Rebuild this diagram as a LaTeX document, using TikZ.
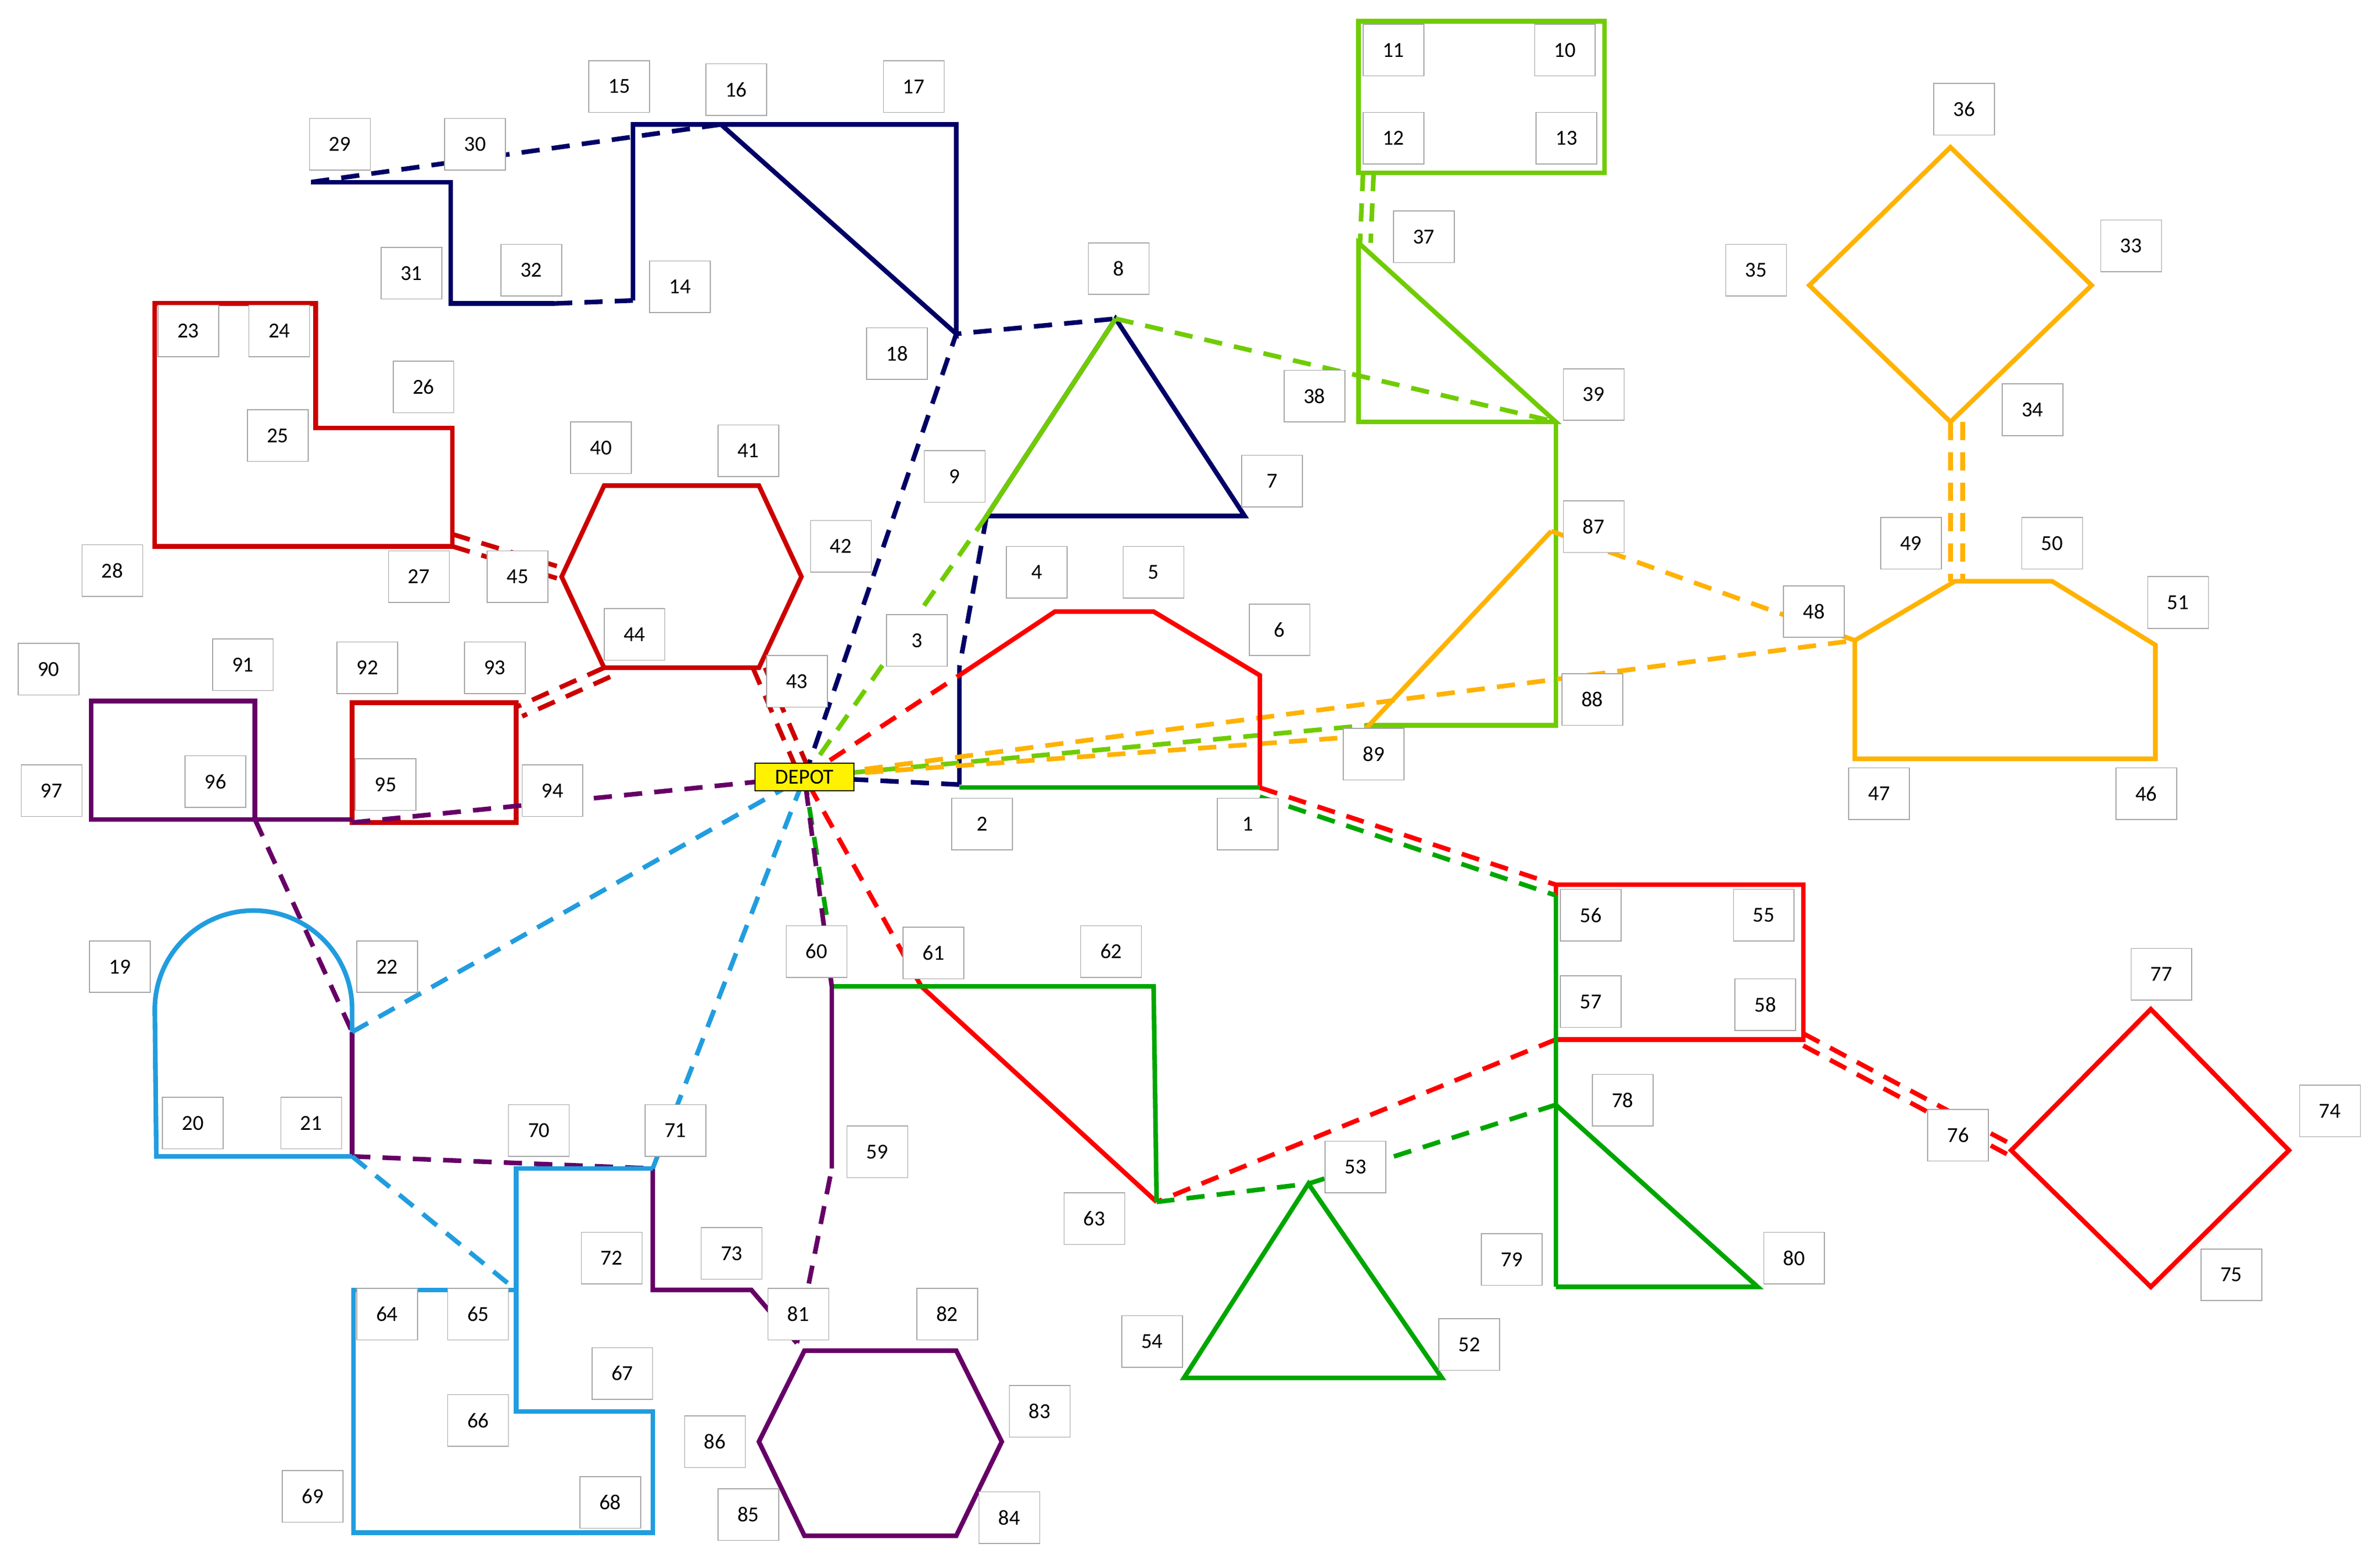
\documentclass[tikz,border=0pt]{standalone}
\usepackage{fontspec}
\setmainfont{Carlito}
\begin{document}
\begin{tikzpicture}[x=0.03cm,y=-0.03cm,line join=miter,
  lab/.style={draw=black!35,fill=white,line width=0.5pt,minimum width=1.2cm,minimum height=1.02cm,font=\fontsize{12}{14}\selectfont,inner sep=0pt},
  sl/.style={line width=2.6pt},
  dl/.style={line width=2.6pt,dash pattern=on 0.36cm off 0.24cm},
  navy/.style={draw=blue!40!black},
  lg/.style={draw=green!45!yellow!80!black},
  org/.style={draw=orange!60!yellow},
  rd/.style={draw=red},
  drd/.style={draw=red!80!black},
  dg/.style={draw=green!65!black},
  pur/.style={draw=violet!80!black},
  cy/.style={draw=cyan!80!blue!90!white}]
\useasboundingbox (0,0) rectangle (1568,1031);
\fill[white] (0,0) rectangle (1568,1031);
\coordinate (D) at (530,512);
% navy
\draw[sl,navy] (205,120)--(297,120)--(297,200)--(365,200);
\draw[dl,navy] (365,200)--(417,198);
\draw[sl,navy] (417,198)--(417,82)--(630,82)--(630,220)--(475,82);
\draw[dl,navy] (205,120)--(475,82);
\draw[dl,navy] (D)--(630,220)--(735,210);
\draw[sl,navy] (735,210)--(820,340)--(650,340)--cycle;
\draw[dl,navy] (650,340)--(632,440);
\draw[sl,navy] (632,440)--(632,517);
\draw[dl,navy] (632,517)--(D);
% light green
\draw[sl,lg] (895,14) rectangle (1057,114);
\draw[dl,lg] (898,114)--(896,160) (905,114)--(903,160);
\draw[sl,lg] (895,160)--(1025,278)--(895,278)--cycle;
\draw[sl,lg] (1025,278)--(1025,478)--(900,478);
\draw[dl,lg] (735,210)--(1025,278);
\draw[sl,lg] (735,210)--(650,340);
\draw[dl,lg] (650,340)--(D)--(900,478);
% orange
\draw[sl,org] (1285,97)--(1378,188)--(1285,278)--(1192,188)--cycle;
\draw[dl,org] (1285,278)--(1285,383) (1293,278)--(1293,383);
\draw[sl,org] (1222,422)--(1288,383)--(1352,383)--(1420,425)--(1420,500)--(1222,500)--cycle;
\draw[dl,org] (1022,350)--(1222,422);
\draw[dl,org] (D)--(1222,422);
\draw[sl,org] (900,480)--(1022,350);
\draw[dl,org] (D)--(900,485);
% dark red
\draw[sl,drd] (102,200)--(208,200)--(208,282)--(298,282)--(298,360)--(102,360)--cycle;
\draw[dl,drd] (298,352)--(370,374) (298,360)--(370,382);
\draw[sl,drd] (370,380)--(398,320)--(500,320)--(528,380)--(500,440)--(398,440)--cycle;
\draw[dl,drd] (496,440)--(524,505) (504,440)--(532,505);
\draw[dl,drd] (398,440)--(340,466) (402,446)--(344,472);
\draw[sl,drd] (232,463) rectangle (340,542);
% red
\draw[dl,rd] (D)--(632,445);
\draw[sl,rd] (632,445)--(695,403)--(760,403)--(830,445)--(830,519);
\draw[dl,rd] (830,519)--(1025,583);
\draw[sl,rd] (1025,583) rectangle (1188,685);
\draw[dl,rd] (1188,681)--(1325,754) (1188,689)--(1325,762);
\draw[sl,rd] (1417,665)--(1508,758)--(1417,848)--(1325,758)--cycle;
\draw[dl,rd] (1025,685)--(762,792);
\draw[sl,rd] (762,792)--(607,650);
\draw[dl,rd] (607,650)--(D);
% dark green
\draw[sl,dg] (632,519)--(830,519);
\draw[dl,dg] (830,525)--(1025,590);
\draw[sl,dg] (1025,590)--(1025,848);
\draw[sl,dg] (1025,728)--(1158,848)--(1025,848);
\draw[dl,dg] (1025,728)--(862,780)--(762,792);
\draw[sl,dg] (862,780)--(950,908)--(780,908)--cycle;
\draw[sl,dg] (762,792)--(760,650)--(548,650);
\draw[dl,dg] (D)--(552,650);
% purple
\draw[sl,pur] (60,462) rectangle (168,540);
\draw[sl,pur] (168,540)--(232,540);
\draw[dl,pur] (168,540)--(232,680);
\draw[sl,pur] (232,680)--(232,762);
\draw[dl,pur] (232,762)--(430,770);
\draw[sl,pur] (430,770)--(430,850)--(495,850)--(525,885);
\draw[sl,pur] (500,950)--(530,890)--(630,890)--(660,950)--(630,1012)--(530,1012)--cycle;
\draw[dl,pur] (525,885)--(548,770);
\draw[sl,pur] (548,770)--(548,650);
\draw[dl,pur] (548,650)--(D);
\draw[dl,pur] (232,542)--(D);
% cyan
\draw[sl,cy] (232,680)--(232,665) arc (0:-180:65) -- (103,762)--(232,762);
\draw[dl,cy] (232,680)--(D);
\draw[dl,cy] (232,762)--(340,850);
\draw[sl,cy] (430,770)--(340,770)--(340,930)--(430,930)--(430,1010)--(233,1010)--(233,850)--(340,850);
\draw[dl,cy] (430,770)--(D);
% depot
\node[draw=black,fill=yellow,line width=0.6pt,minimum width=1.95cm,minimum height=0.54cm,inner sep=0pt,font=\fontsize{12}{14}\selectfont] (depot) at (D) {DEPOT};
% labels
\foreach \t/\x/\y in {15/408/57,16/485/59,17/602/57,29/224/95,30/313/95,31/271/180,32/350/178,14/448/189,18/591/233,8/737/177,9/629/314,7/838/317,38/866/261,11/918/33,10/1031/33,12/918/91,13/1032/91,37/938/156,39/1050/260,36/1294/72,33/1404/162,35/1157/178,34/1339/270,49/1259/358,50/1352/358,51/1435/397,48/1195/403,87/1050/347,88/1049/461,89/905/497,47/1238/523,46/1414/523,4/683/377,5/760/377,6/843/415,3/604/422,2/647/543,1/822/543,23/124/218,24/184/218,26/279/255,25/183/287,28/74/376,27/276/380,45/341/380,40/396/295,41/493/297,42/554/360,44/418/418,43/525/449,90/32/441,91/160/438,92/242/440,93/326/440,97/34/521,96/142/515,95/254/517,94/364/521,19/79/637,22/255/637,20/127/740,21/205/740,70/355/745,71/445/745,72/403/829,73/482/826,60/538/627,61/615/628,62/732/627,59/578/759,63/721/803,56/1048/603,55/1162/603,57/1048/660,58/1163/662,78/1069/725,77/1424/642,74/1535/732,76/1290/748,75/1470/840,53/893/769,79/996/830,80/1182/829,54/759/884,52/968/886,81/526/866,82/624/866,67/410/905,83/685/930,64/255/866,65/315/866,66/315/936,86/471/950,69/206/986,68/402/990,85/493/998,84/665/1000}
  \node[lab] (n\t) at (\x,\y) {\t};
\end{tikzpicture}
\end{document}
